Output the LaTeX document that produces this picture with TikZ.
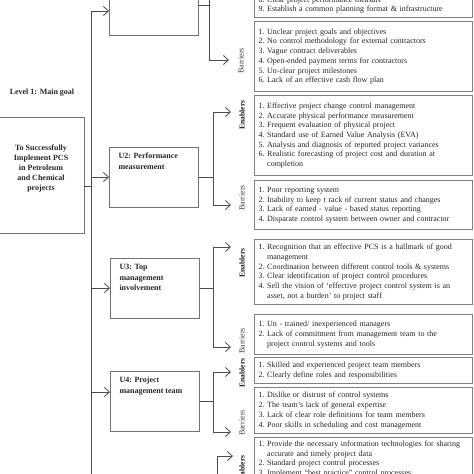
\documentclass[tikz,border=0pt]{standalone}
\usepackage{fontspec}
\setmainfont{Liberation Serif}
\usetikzlibrary{arrows.meta,positioning,calc}
\newcommand{\ubody}[1]{\parbox[t][48pt][t]{71pt}{\raggedright #1}}
\newcommand{\items}[1]{\begin{tabular}{@{}l@{~}l@{}}#1\end{tabular}}

\begin{document}
\begin{tikzpicture}[x=1pt, y=-1pt,
  goalbox/.style={draw=black!55, line width=0.9pt, minimum width=86pt, minimum height=116pt, align=center, font=\fontsize{8}{10}\selectfont\bfseries, text=black!85},
  ubox/.style={draw=black!55, line width=0.9pt, inner xsep=9pt, inner ysep=6pt, font=\fontsize{8}{10.8}\selectfont\bfseries, text=black!85},
  listbox/.style={draw=black!50, line width=1.1pt, anchor=north west, text width=210pt, align=left, inner xsep=4pt, inner ysep=2pt, font=\fontsize{8}{9.7}\selectfont, text=black!85},
  side/.style={rotate=90, font=\fontsize{8}{9}\selectfont},
  enab/.style={side, font=\fontsize{7.5}{9}\selectfont\bfseries, text=black!90},
  barr/.style={side, text=black!75},
  conn/.style={draw=black!70, line width=0.8pt},
  arrow/.style={conn, -{Straight Barb[length=5pt, width=9pt]}}
]
\useasboundingbox (0,0) rectangle (474,474);

% level 1
\node[font=\fontsize{8}{10}\selectfont\bfseries, text=black!85] (level) at (42,93) {Level 1: Main goal};
\node[goalbox] (goal) at (41,175) {To Successfully\\Implement PCS\\in Petroleum\\and Chemical\\projects\\[4pt]};

% sub goals
\node[ubox] (u1) at (154,5) {\ubody{U1: Project\\planning}};
\node[ubox] (u2) at (154,177) {\ubody{U2: Performance\\measurement}};
\node[ubox] (u3) at (155,288) {\ubody{U3: Top\\management\\involvement}};
\node[ubox] (u4) at (155,401) {\ubody{U4: Project\\management team}};

% trunk
\coordinate (trunktop) at (91,11);
\coordinate (trunkbot) at (91,500);
\coordinate (goalout) at ($(goal.east)+(0,11)$);
\coordinate (u4in) at ($(u4.west)+(0,-9)$);
\draw[conn] (goalout) -- (trunktop |- goalout);
\draw[arrow] (trunkbot) -- (trunktop) -- (trunktop -| u1.west);
\draw[arrow] (trunktop |- u2.west) -- (u2.west);
\draw[arrow] (trunktop |- u3.west) -- (u3.west);
\draw[arrow] (trunktop |- u4in) -- (u4in);

% enablers / barriers labels
\node[barr] (l1b) at (241,61) {Barriers};
\node[enab] (l2e) at (242,115) {Enablers};
\node[barr] (l2b) at (242,198) {Barriers};
\node[enab] (l3e) at (242,263) {Enablers};
\node[barr] (l3b) at (242,341) {Barriers};
\node[enab] (l4e) at (242,373) {Enablers};
\node[barr] (l4b) at (242,423) {Barriers};
\node[enab] (l5e) at (242,470) {Enablers};

\coordinate (t1b) at (229,60);
\coordinate (t2e) at (231,112);
\coordinate (t2b) at (231,205);
\coordinate (t3e) at (231,247);
\coordinate (t3b) at (231,347);
\coordinate (t4e) at (231,372);
\coordinate (t4b) at (231,432);
\coordinate (t5e) at (233,456);
\coordinate (f1top) at (209,-30);
\coordinate (f5) at (217,500);

\draw[conn] (u1.east) -| (f1top);
\draw[arrow] (u1.east -| f1top) |- (t1b);
\draw[conn] (u2.east) -- ++(14,0) coordinate (f2);
\draw[arrow] (f2) |- (t2e);
\draw[arrow] (f2) |- (t2b);
\draw[conn] (u3.east) -- ++(13,0) coordinate (f3);
\draw[arrow] (f3) |- (t3e);
\draw[arrow] (f3) |- (t3b);
\draw[conn] (u4.east) -- ++(13.5,0) coordinate (f4);
\draw[arrow] (f4) |- (t4e);
\draw[arrow] (f4) |- (t4b);
\draw[arrow] (f5) |- (t5e);

% lists
\node[listbox, minimum height=25pt] (b1e) at (254,-8) {\items{
8. & Clear project performance measure\\
9. & Establish a common planning format \& infrastructure}};
\node[listbox, minimum height=70pt] (b1b) at (254,21) {\items{
1. & Unclear project goals and objectives\\
2. & No control methodology for external contractors\\
3. & Vague contract deliverables\\
4. & Open-ended payment terms for contractors\\
5. & Un-clear project milestones\\
6. & Lack of an effective cash flow plan}};
\node[listbox, minimum height=80pt] (b2e) at (254,95) {\items{
1. & Effective project change control management\\
2. & Accurate physical performance measurement\\
3. & Frequent evaluation of physical project\\
4. & Standard use of Earned Value Analysis (EVA)\\
5. & Analysis and diagnosis of reported project variances\\
6. & Realistic forecasting of project cost and duration at\\
   & completion}};
\node[listbox, minimum height=49pt] (b2b) at (254,180) {\items{
1. & Poor reporting system\\
2. & Inability to keep t rack of current status and changes\\
3. & Lack of earned - value - based status reporting\\
4. & Disparate control system between owner and contractor}};
\node[listbox, minimum height=65pt] (b3e) at (254,239) {\items{
1. & Recognition that an effective PCS is a hallmark of good\\
   & management\\
2. & Coordination between different control tools \& systems\\
3. & Clear identification of project control procedures\\
4. & Sell the vision of ‘effective project control system is an\\
   & asset, not a burden’ to project staff}};
\node[listbox, minimum height=40pt] (b3b) at (254,314) {\items{
1. & Un - trained/ inexperienced managers\\
2. & Lack of commitment from management team to the\\
   & project control systems and tools}};
\node[listbox, minimum height=26pt] (b4e) at (254,357) {\items{
1. & Skilled and experienced project team members\\
2. & Clearly define roles and responsibilities}};
\node[listbox, minimum height=46pt] (b4b) at (254,387) {\items{
1. & Dislike or distrust of control systems\\
2. & The team’s lack of general expertise\\
3. & Lack of clear role definitions for team members\\
4. & Poor skills in scheduling and cost management}};
\node[listbox, minimum height=43pt] (b5e) at (254,437) {\items{
1. & Provide the necessary information technologies for sharing\\
   & accurate and timely project data\\
2. & Standard project control processes\\
3. & Implement “best practice” control processes}};

\end{tikzpicture}
\end{document}
